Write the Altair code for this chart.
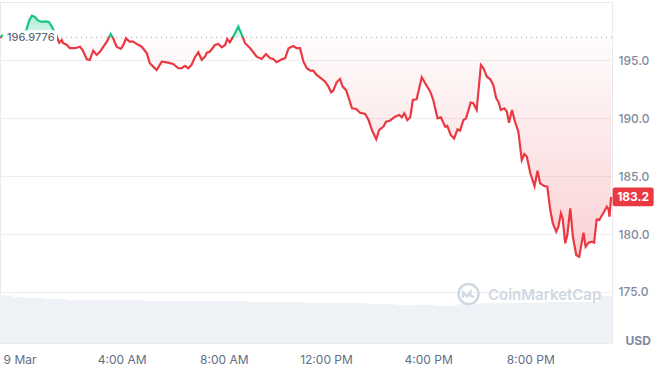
import altair as alt
import pandas as pd

# ---- data (minutes after 9 Mar 00:00 UTC, price in USD) ----
minutes = [-46, -41, -23, 1, 15, 23, 29, 36, 43, 53, 62, 69, 76, 86, 93, 99, 102, 111, 118, 130,
           142, 148, 158, 165, 173, 181, 189, 197, 205, 214, 220, 228, 238, 244, 250, 258, 267, 275,
           287, 299, 306, 314, 322, 334, 349, 361, 373, 381, 389, 396, 404, 412, 420, 428, 436, 440,
           447, 459, 467, 475, 483, 488, 494, 502, 514, 524, 530, 542, 557, 569, 579, 589, 596, 604,
           616, 624, 632, 643, 651, 659, 667, 675, 683, 690, 698, 710, 718, 726, 732, 737, 745, 753,
           759, 767, 775, 781, 791, 800, 812, 820, 828, 838, 845, 855, 861, 870, 882, 892, 898, 904,
           911, 918, 924, 933, 945, 953, 965, 972, 982, 990, 1000, 1005, 1013, 1021, 1029, 1035, 1043,
           1049, 1060, 1066, 1074, 1084, 1090, 1098, 1106, 1113, 1120, 1125, 1131, 1139, 1145, 1150,
           1157, 1164, 1172, 1180, 1186, 1192, 1200, 1210, 1217, 1223, 1233, 1240, 1247, 1253, 1261,
           1266, 1272, 1276, 1282, 1287, 1294, 1300, 1308, 1315, 1325, 1330, 1337, 1345, 1350, 1356,
           1362, 1372, 1380, 1384, 1386, 1390]
prices = [196.93, 197.14, 197.23, 197.27, 197.53, 198.48, 198.85, 198.74, 198.44, 198.31, 198.35,
          198.31, 197.88, 197.18, 196.52, 196.75, 196.49, 196.32, 196.04, 196.04, 196.17, 195.89,
          195.09, 195.03, 195.83, 195.46, 195.74, 196.17, 196.61, 197.27, 196.90, 196.17, 195.98,
          196.32, 196.90, 196.61, 196.61, 196.41, 196.17, 195.60, 194.74, 194.45, 194.16, 194.88,
          194.79, 194.68, 194.31, 194.31, 194.51, 194.31, 194.59, 195.26, 195.69, 195.03, 195.31,
          195.66, 195.74, 196.32, 196.41, 196.12, 196.32, 196.84, 196.55, 197.04, 197.90, 197.04,
          196.47, 196.04, 195.31, 195.11, 195.54, 195.17, 195.11, 194.83, 195.09, 195.17, 196.04,
          196.23, 196.04, 196.04, 194.88, 194.31, 194.10, 194.10, 193.73, 193.39, 193.15, 192.72,
          192.24, 192.37, 193.10, 193.39, 192.72, 192.44, 191.57, 190.85, 190.79, 190.47, 190.36,
          189.84, 188.98, 188.18, 188.98, 189.27, 189.70, 189.78, 190.13, 190.28, 190.08, 190.42,
          189.84, 190.08, 191.57, 191.63, 193.53, 193.01, 192.29, 191.57, 189.99, 190.08, 189.27,
          189.33, 188.55, 188.25, 189.04, 188.92, 189.84, 189.99, 191.34, 191.29, 190.71, 194.59,
          194.31, 193.58, 193.36, 192.87, 191.72, 191.42, 190.71, 190.85, 190.56, 189.61, 190.71,
          189.70, 188.83, 186.39, 186.91, 186.67, 185.24, 184.14, 185.47, 184.38, 184.14, 184.08,
          182.07, 180.92, 180.20, 180.63, 181.79, 181.36, 179.20, 179.91, 182.22, 179.77, 178.19,
          178.04, 180.11, 178.90, 179.25, 179.33, 179.25, 181.27, 181.21, 181.84, 182.36, 182.13,
          181.49, 183.20]
base_price = 196.9776

# volume (relative units) as steps between edges (minutes)
vol_edges = [-46, -34, -16, 13, 60, 111, 290, 535, 664, 817, 880, 939, 974, 1028, 1085, 1156, 1240, 1362, 1392]
volumes = [480, 473, 460, 450, 440, 430, 420, 410, 400, 387, 377, 383, 370, 387, 397, 403, 410, 470]

y_ticks = [175, 180, 185, 190, 195]
x_tick_hours = [0, 4, 8, 12, 16, 20]

assert len(minutes) == len(prices)
assert len(vol_edges) == len(volumes) + 1

t0 = pd.Timestamp("2024-03-09T00:00:00")


def iso(m):
    return (t0 + pd.Timedelta(minutes=m)).strftime("%Y-%m-%dT%H:%M:%SZ")


def dt(m):
    ts = t0 + pd.Timedelta(minutes=m)
    return alt.DateTime(year=ts.year, month=ts.month, date=ts.day, hours=ts.hour,
                        minutes=ts.minute, utc=True)


price_df = pd.DataFrame({"t": [iso(m) for m in minutes], "price": prices})
vol_df = pd.DataFrame({"start": [iso(m) for m in vol_edges[:-1]],
                       "end": [iso(m) for m in vol_edges[1:]],
                       "volume": volumes})
first_df = pd.DataFrame({"t": [iso(minutes[0])], "price": [base_price]})
last_df = price_df.tail(1)
wm_df = pd.DataFrame({"label": ["CoinMarketCap"]})

FONT = "Inter"
GREEN = "#16c784"
RED = "#ea3943"

xscale = alt.Scale(type="utc", domain=[dt(vol_edges[0]), dt(vol_edges[-1])])
xaxis = alt.Axis(
    values=[alt.DateTime(year=2024, month=3, date=9, hours=h, utc=True) for h in x_tick_hours],
    labelExpr="utcFormat(datum.value, '%H') == '00' ? utcFormat(datum.value, '%-d %b') : utcFormat(datum.value, '%-I:%M %p')",
    grid=False, domain=False, ticks=False, tickSize=0, labelPadding=11,
    labelFont=FONT, labelFontSize=12, labelColor="#616e85", title=None,
)


def X(field):
    return alt.X(f"{field}:T", scale=xscale, axis=xaxis, title=None)


yscale = alt.Scale(domain=[170.59, 200.03], nice=False, zero=False)
yaxis = alt.Axis(
    orient="right", values=y_ticks, format=".1f", grid=True, gridColor="#eceff2",
    domain=False, ticks=False, tickSize=0, labelPadding=6,
    labelFont=FONT, labelFontSize=12, labelFontWeight=500, labelColor="#808a9d",
    title="USD", titleAngle=0, titleX=13, titleY=338, titleAlign="left",
    titleBaseline="middle", titleFont=FONT, titleFontSize=12, titleFontWeight="bold",
    titleColor="#808a9d",
)


def Y(field):
    return alt.Y(f"{field}:Q", scale=yscale, axis=yaxis, title="USD")


pmax, pmin = max(prices), min(prices)
off = (pmax - base_price) / (pmax - pmin)

line_grad = alt.Gradient(
    gradient="linear", x1=0, y1=0, x2=0, y2=1,
    stops=[alt.GradientStop(color=GREEN, offset=0),
           alt.GradientStop(color=GREEN, offset=off),
           alt.GradientStop(color=RED, offset=off),
           alt.GradientStop(color=RED, offset=1)],
)
fill_grad = alt.Gradient(
    gradient="linear", x1=0, y1=0, x2=0, y2=1,
    stops=[alt.GradientStop(color="rgba(22,199,132,0.35)", offset=0),
           alt.GradientStop(color="rgba(22,199,132,0.12)", offset=off),
           alt.GradientStop(color="rgba(234,57,67,0.015)", offset=off),
           alt.GradientStop(color="rgba(234,57,67,0.23)", offset=1)],
)

vol = alt.Chart(vol_df).mark_rect(color="#eef1f5").encode(
    x=X("start"), x2="end:T",
    y=alt.Y("volume:Q", scale=alt.Scale(domain=[0, 3410]), axis=None),
    y2=alt.datum(0),
)

fill = alt.Chart(price_df).mark_area(fill=fill_grad, interpolate="linear").encode(
    x=X("t"), y=Y("price"), y2=alt.datum(base_price)
)

baseline = alt.Chart(first_df).mark_rule(strokeDash=[1, 4], color="#9aa3b2", strokeWidth=1).encode(
    y=Y("price")
)

line = alt.Chart(price_df).mark_line(stroke=line_grad, strokeWidth=2.2, interpolate="linear").encode(
    x=X("t"), y=Y("price")
)

label_box = alt.Chart(first_df).mark_point(
    shape="M-1,-0.26H1V0.26H-1Z", size=2916, filled=True, color="white",
    opacity=1, strokeWidth=0, xOffset=30,
).encode(x=X("t"), y=Y("price"))

label_text = alt.Chart(first_df).mark_text(
    align="left", baseline="middle", dx=7, dy=1, font=FONT, fontSize=11, fontWeight=500,
    color="#5f6b7e",
).encode(x=X("t"), y=Y("price"), text=alt.Text("price:Q", format=".4f"))

tag_path = ("M-0.9,-0.46 H0.9 Q1,-0.46 1,-0.36 V0.36 Q1,0.46 0.9,0.46 H-0.9 "
            "Q-1,0.46 -1,0.36 V-0.36 Q-1,-0.46 -0.9,-0.46 Z")
tag_box = alt.Chart(last_df).mark_point(
    shape=tag_path, size=1681, filled=True, color=RED, opacity=1, strokeWidth=0, xOffset=22,
).encode(x=X("t"), y=Y("price"))

tag_text = alt.Chart(last_df).mark_text(
    align="center", baseline="middle", dx=22, font=FONT, fontSize=12, fontWeight="bold",
    color="white",
).encode(x=X("t"), y=Y("price"), text=alt.Text("price:Q", format=".1f"))

WM = "#cfd7e3"
wm_text = alt.Chart(wm_df).mark_text(
    align="left", baseline="middle", font=FONT, fontSize=15, fontWeight=600, color=WM,
).encode(x=alt.value(488), y=alt.value(293), text="label:N")
wm_circle = alt.Chart(wm_df).mark_point(
    shape="circle", size=400, filled=False, color=WM, strokeWidth=2.5, opacity=1,
).encode(x=alt.value(468.5), y=alt.value(292))
wm_m = alt.Chart(wm_df).mark_point(
    shape="M-0.55,0.35 L-0.55,-0.15 L-0.15,0.25 L0.2,-0.2 L0.2,0.15 L0.55,0.3",
    size=400, filled=False, color=WM, strokeWidth=2.2, opacity=1,
).encode(x=alt.value(468.5), y=alt.value(292))

price_group = alt.layer(
    fill, baseline, line, label_box, label_text, wm_circle, wm_m, wm_text, tag_box, tag_text
)

chart = alt.layer(vol, price_group).resolve_scale(y="independent").properties(
    width=612, height=341,
    padding={"left": 0, "top": 2, "right": 56, "bottom": 30},
    autosize=alt.AutoSizeParams(type="none"),
    background="white",
).configure_view(stroke="#e8eaed", strokeWidth=1)

chart.save("out.html", embed_options={"renderer": "svg", "actions": False})
